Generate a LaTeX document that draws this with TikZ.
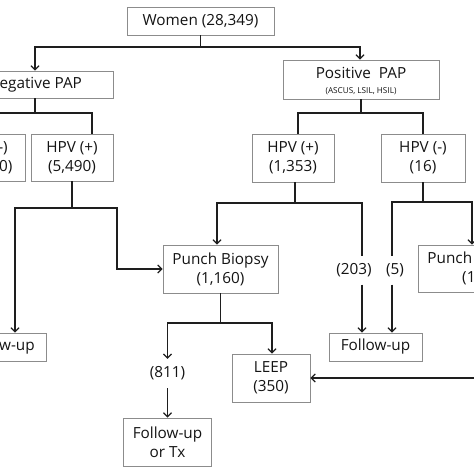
\documentclass[tikz,border=0pt]{standalone}
\usepackage{fontspec}
\setmainfont{Open Sans}
\usetikzlibrary{arrows.meta,calc}
\definecolor{boxgray}{RGB}{140,140,140}
\definecolor{lineblk}{RGB}{30,30,30}
\definecolor{txt}{RGB}{20,20,20}
\begin{document}
\begin{tikzpicture}[x=1pt,y=-1pt,
  box/.style={draw=boxgray, line width=0.9pt, fill=white, minimum height=28pt, inner sep=0pt, align=center, text=txt, font=\fontsize{15.3}{19}\selectfont},
  lbl/.style={inner sep=0pt, minimum height=29pt, text=txt, font=\fontsize{15.3}{19}\selectfont},
  conn/.style={line width=1.4pt, draw=lineblk},
  arr/.style={conn, -{Straight Barb[length=4pt,width=8pt,line width=1.2pt]}}]
\fill[white] (0,0) rectangle (474,474);
\useasboundingbox (0,0) rectangle (474,474);
% nodes
\node[box, minimum width=147pt] (women) at (200.5,21) {Women (28,349)};
\node[box, minimum width=156pt, minimum height=27pt] (neg) at (35,84.5) {Negative PAP};
\node[box, minimum width=156pt, minimum height=39pt] (pos) at (361,79.5) {\rule{0pt}{15pt}Positive\ \ PAP\\[-4pt]{\fontsize{8.2}{9}\selectfont (ASCUS, LSIL, HSIL)}};
\node[box, minimum width=82pt, minimum height=47pt] (hpvn1) at (-16,157.5) {HPV (-)\\(21,490)};
\node[box, minimum width=82pt, minimum height=47pt] (hpvp1) at (72,157.5) {HPV (+)\\(5,490)};
\node[box, minimum width=82pt, minimum height=48pt] (hpvp2) at (293,158) {HPV (+)\\(1,353)};
\node[box, minimum width=84pt, minimum height=48pt] (hpvn2) at (423,158) {HPV (-)\\(16)};
\node[box, minimum width=93pt] (fu1) at (0,347) {Follow-up};
\node[box, minimum width=115pt, minimum height=48pt] (pb1) at (220.5,269) {Punch Biopsy\\(1,160)};
\node[box, minimum width=115pt, minimum height=47pt] (pb2) at (475.5,268.5) {Punch Biopsy\\(11)};
\node[box, minimum width=93pt] (fu2) at (375.5,347) {Follow-up};
\node[box, minimum width=78pt, minimum height=48pt] (leep) at (271,378) {LEEP\\(350)};
\node[box, minimum width=88pt, minimum height=48pt] (futx) at (167.5,442) {Follow-up\\or Tx};
\node[lbl] (l203) at (354,270) {(203)};
\node[lbl] (l5) at (395,270) {(5)};
\node[lbl] (l811) at (167.5,373.5) {(811)};
% junctions
\coordinate (j0) at (200.5,47);
\coordinate (j1) at (35,113);
\coordinate (j2) at (361,113);
\coordinate (j3) at (72,208);
\coordinate (j4) at (295,203);
\coordinate (j5) at (423,202);
\coordinate (j6) at (220.5,323);
\coordinate (c1) at (117,269);
\coordinate (a203t) at (362,255.5);
\coordinate (a203b) at (362,284.5);
\coordinate (a5t) at (392,255.5);
\coordinate (a5b) at (392,284.5);
% connectors
\draw[conn] (women.south) -- (j0);
\draw[arr] (j0) -| (neg.north);
\draw[arr] (j0) -| ([xshift=-1pt]pos.north);
\draw[conn] (neg.south) -- (j1);
\draw[conn] (j1) -| (hpvn1.north);
\draw[conn] (j1) -| ([xshift=20pt]hpvp1.north);
\draw[conn] (pos.south) -- (j2);
\draw[conn] (j2) -| ([xshift=5pt]hpvp2.north);
\draw[conn] (j2) -| (hpvn2.north);
\draw[conn] (hpvp1.south) -- (j3);
\draw[arr] (j3) -| ([xshift=15pt]fu1.north);
\draw[arr] (j3) -| (c1) -- (pb1.west);
\draw[conn] ([xshift=2pt]hpvp2.south) -- (j4);
\draw[arr] (j4) -| ([xshift=-3.5pt]pb1.north);
\draw[conn] (j4) -| (a203t);
\draw[arr] (a203b) -- (fu2.north -| a203b);
\draw[conn] (hpvn2.south) -- (j5);
\draw[conn] (j5) -| (a5t);
\draw[arr] (a5b) -- (fu2.north -| a5b);
\draw[arr] (j5) -| ([xshift=-3.5pt]pb2.north);
\draw[conn] (pb1.south) -- (j6);
\draw[arr] (j6) -| (l811.north);
\draw[arr] (j6) -| ([xshift=1pt]leep.north);
\draw[arr] (l811.south) -- (futx.north);
\draw[arr] ([xshift=25pt]pb2.south) |- (leep.east);
\end{tikzpicture}
\end{document}
